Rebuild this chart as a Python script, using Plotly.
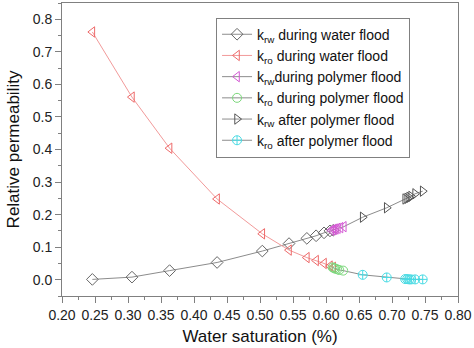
import plotly.graph_objects as go

# Relative permeability curves: water flood, polymer flood, after polymer flood
sw_water = [0.246, 0.306, 0.363, 0.435, 0.5035, 0.544, 0.571, 0.585, 0.597, 0.606, 0.611]
krw_water = [0.001, 0.008, 0.028, 0.053, 0.088, 0.111, 0.127, 0.135, 0.144, 0.150, 0.152]
kro_water = [0.761, 0.561, 0.404, 0.248, 0.141, 0.091, 0.068, 0.059, 0.050, 0.042, 0.038]

sw_poly_w = [0.608, 0.611, 0.613, 0.615, 0.618, 0.622, 0.627]
krw_poly = [0.152, 0.154, 0.155, 0.156, 0.158, 0.160, 0.163]

sw_poly_o = [0.610, 0.612, 0.614, 0.617, 0.620, 0.626]
kro_poly = [0.038, 0.036, 0.034, 0.032, 0.030, 0.028]

sw_after = [0.6556, 0.692, 0.720, 0.723, 0.726, 0.729, 0.735, 0.7465]
krw_after = [0.192, 0.221, 0.248, 0.250, 0.253, 0.256, 0.264, 0.272]
kro_after = [0.015, 0.007, 0.002, 0.002, 0.001, 0.001, 0.001, 0.001]

GRAY = "#8c8c8c"
AXIS = "#808080"
FONT = "Arial, Liberation Sans, sans-serif"

fig = go.Figure()

def add(x, y, name, symbol, mcolor, lcolor):
    fig.add_trace(go.Scatter(
        x=x, y=y, name=name, mode="lines+markers",
        line=dict(color=lcolor, width=1),
        marker=dict(symbol=symbol, size=9, color=mcolor,
                    line=dict(color=mcolor, width=1)),
    ))

# lines joining the flood stages
fig.add_trace(go.Scatter(x=[sw_poly_w[-1], sw_after[0]], y=[krw_poly[-1], krw_after[0]],
                         mode="lines", line=dict(color=GRAY, width=1), showlegend=False))
fig.add_trace(go.Scatter(x=[sw_poly_o[-1], sw_after[0]], y=[kro_poly[-1], kro_after[0]],
                         mode="lines", line=dict(color=GRAY, width=1), showlegend=False))

add(sw_water, krw_water, "k<sub>rw</sub> during water flood", "diamond-open", "#666666", GRAY)
add(sw_water, kro_water, "k<sub>ro</sub> during water flood", "triangle-left-open", "#ee6a6a", "#f29a9a")
add(sw_poly_w, krw_poly, "k<sub>rw</sub>during polymer flood", "triangle-left-open", "#d45ad4", GRAY)
add(sw_poly_o, kro_poly, "k<sub>ro</sub> during polymer flood", "circle-open", "#7cd87c", GRAY)
add(sw_after, krw_after, "k<sub>rw</sub> after polymer flood", "triangle-right-open", "#555555", GRAY)
add(sw_after, kro_after, "k<sub>ro</sub> after polymer flood", "circle-cross-open", "#48dbe4", GRAY)

axis_common = dict(
    showline=True, linecolor=AXIS, linewidth=1, mirror=True,
    ticks="outside", ticklen=6, tickcolor=AXIS, tickwidth=1,
    showgrid=False, zeroline=False,
    tickfont=dict(family=FONT, size=14, color="#222222"),
)

fig.update_xaxes(
    range=[0.2, 0.8], tick0=0.2, dtick=0.05, tickformat=".2f",
    minor=dict(dtick=0.025, ticklen=3, ticks="outside", tickcolor=AXIS, showgrid=False),
    title=dict(text="Water saturation (%)", font=dict(family=FONT, size=17, color="#111111"), standoff=8),
    **axis_common,
)
fig.update_yaxes(
    range=[-0.05, 0.85], tick0=0, dtick=0.1, tickformat=".1f",
    minor=dict(dtick=0.05, ticklen=3, ticks="outside", tickcolor=AXIS, showgrid=False),
    title=dict(text="Relative permeability", font=dict(family=FONT, size=17, color="#111111"), standoff=8),
    **axis_common,
)

fig.update_layout(
    width=474, height=348,
    margin=dict(l=62, r=16, t=3, b=52),
    paper_bgcolor="white", plot_bgcolor="white",
    font=dict(family=FONT, color="#111111"),
    legend=dict(
        x=0.389, y=0.95, xanchor="left", yanchor="top",
        bgcolor="white", bordercolor=AXIS, borderwidth=1,
        font=dict(family=FONT, size=14, color="#111111"),
        tracegroupgap=0, itemwidth=30,
    ),
)

fig.write_html("out.html")
